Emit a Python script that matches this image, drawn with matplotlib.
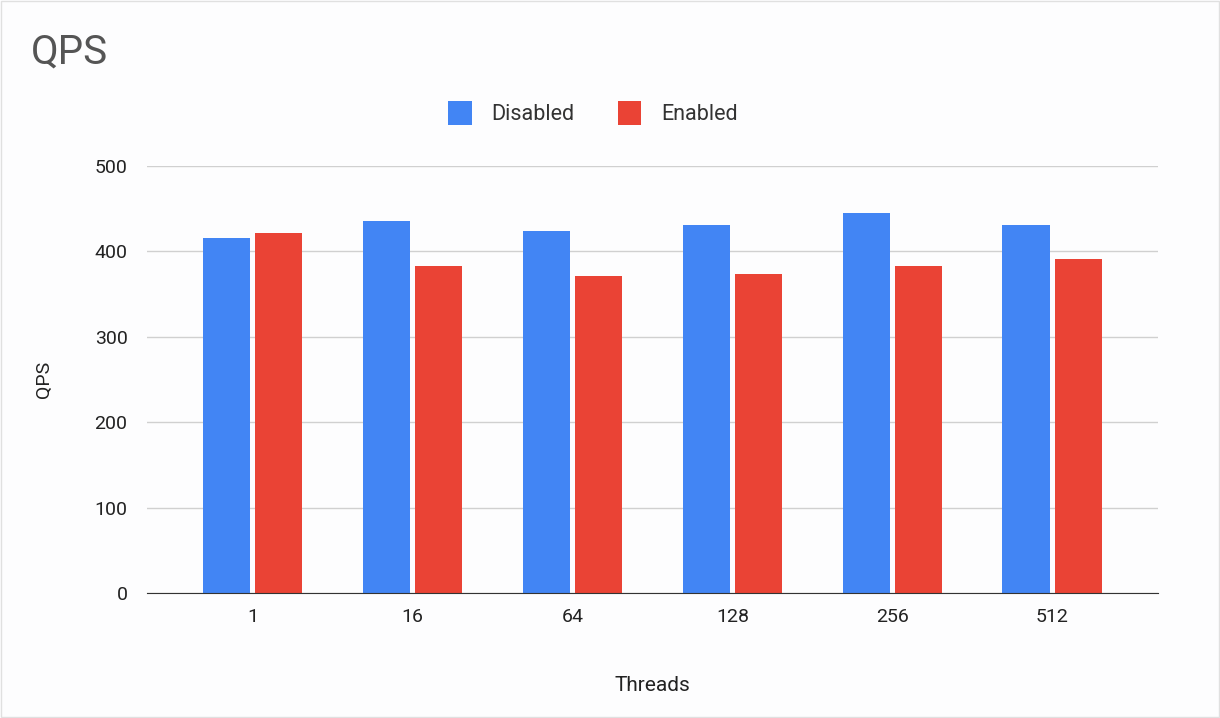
import matplotlib.pyplot as plt
import numpy as np

threads = ['1', '16', '64', '128', '256', '512']
disabled = [415, 435, 424, 431, 445, 431]
enabled = [421, 383, 371, 374, 383, 391]


def main():
    plt.rcParams['font.family'] = ['Roboto', 'DejaVu Sans']

    fig = plt.figure(figsize=(12.2, 7.18), dpi=100, facecolor='#fdfdfe')
    ax = fig.add_axes([0.1205, 0.174, 0.8285, 0.595])
    ax.set_facecolor('#fdfdfe')

    x = np.arange(len(threads))
    w = 0.295
    gap = 0.016
    ax.bar(x - w / 2 - gap, disabled, w, color='#4285F4', label='Disabled', zorder=3)
    ax.bar(x + w / 2 + gap, enabled, w, color='#EA4335', label='Enabled', zorder=3)

    ax.set_xlim(-0.66, 5.66)
    ax.set_ylim(0, 500)
    ax.set_yticks([0, 100, 200, 300, 400, 500])
    ax.set_xticks(x)
    ax.set_xticklabels(threads)
    ax.tick_params(axis='both', length=0, labelsize=14, colors='#222222')
    ax.tick_params(axis='y', pad=14)
    ax.tick_params(axis='x', pad=11)
    ax.grid(axis='y', color='#d0d0d0', linewidth=1, zorder=0)
    for s in ['top', 'right', 'left']:
        ax.spines[s].set_visible(False)
    ax.spines['bottom'].set_color('#333333')
    ax.spines['bottom'].set_zorder(4)

    ax.set_ylabel('QPS', fontsize=14, color='#222222', labelpad=30)
    ax.set_xlabel('Threads', fontsize=15, color='#222222', labelpad=36)

    fig.text(0.025, 0.928, 'QPS', fontsize=29, color='#555555', va='center', ha='left')
    fig.legend(loc='center', bbox_to_anchor=(0.486, 0.842), ncol=2, frameon=False,
               fontsize=15.5, handlelength=1.1, handleheight=1.3, columnspacing=2.0,
               handletextpad=0.9, labelcolor='#333333')

    # light border around the figure
    fig.patches.append(plt.Rectangle((0.001, 0.002), 0.998, 0.996, transform=fig.transFigure,
                                     fill=False, edgecolor='#e0e0e0', linewidth=1))

    plt.savefig('out.png', dpi=100, facecolor=fig.get_facecolor())


if __name__ == "__main__":
    main()
